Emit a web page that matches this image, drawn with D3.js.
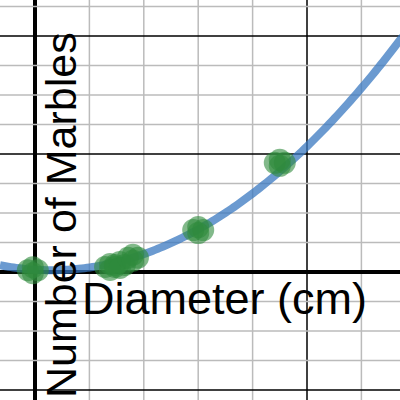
<!DOCTYPE html><html><head><script src="https://cdn.jsdelivr.net/npm/d3@7"></script>
<style>body{margin:0}</style></head><body><svg id="c" width="400" height="400"></svg><script>
const xs=[-0.04,1.38,1.56,1.8,3.0,4.5];
const ys=[0.3,0.85,1.2,2.4,7.1,18.5];
const coef={a:0.95,h:0.3,k:0.3};
const xLabel="Diameter (cm)", yLabel="Number of Marbles";
const svg=d3.select("#c");
const x=d3.scaleLinear().domain([0,1]).range([35,89.4]);
const y=d3.scaleLinear().domain([0,5]).range([272,242.5]);
const xmin=x.invert(0),xmax=x.invert(400),ymin=y.invert(400),ymax=y.invert(0);
const g=svg.append("g");
d3.range(Math.ceil(xmin),Math.floor(xmax)+1).forEach(v=>{
 g.append("line").attr("x1",x(v)).attr("x2",x(v)).attr("y1",0).attr("y2",400)
 .attr("stroke",v===0?"#000":(v%5===0?"#000":"#bbb")).attr("stroke-width",v===0?4:1.5);});
d3.range(Math.ceil(ymin/5)*5,ymax+1,5).forEach(v=>{
 g.append("line").attr("y1",y(v)).attr("y2",y(v)).attr("x1",0).attr("x2",400)
 .attr("stroke",v===0?"#000":(v%20===0?"#000":"#bbb")).attr("stroke-width",v===0?4:1.5);});
const f=t=>coef.a*(t-coef.h)**2+coef.k;
const pts=d3.range(xmin,xmax+0.05,0.05).map(t=>[x(t),y(f(t))]);
svg.append("path").attr("d",d3.line()(pts)).attr("fill","none").attr("stroke","#3a78c0").attr("stroke-opacity",0.75).attr("stroke-width",8);
xs.forEach((v,i)=>{
 [[-5,0],[5,0],[0,-3],[0,3]].forEach(([dx,dy])=>svg.append("circle").attr("cx",x(v)+dx).attr("cy",y(ys[i])+dy).attr("r",11).attr("fill","#2f8a3c").attr("fill-opacity",0.6));
});
svg.append("text").attr("x",82).attr("y",314).attr("font-family","Liberation Sans, Arial").attr("font-size",45).text(xLabel);
svg.append("text").attr("transform","translate(76,398) rotate(-90)").attr("font-family","Liberation Sans, Arial").attr("font-size",43).text(yLabel);
</script></body></html>
